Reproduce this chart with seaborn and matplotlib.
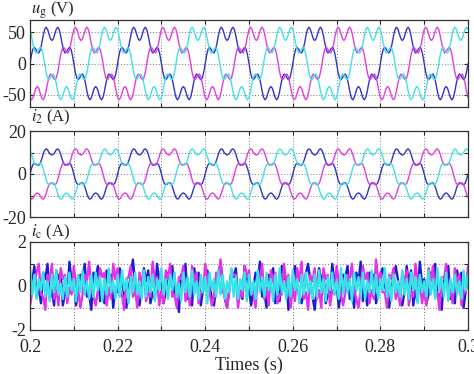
"""
Three stacked waveform panels: grid voltage u_g, grid current i_2 and
capacitor current i_c (phases a/b/c) over 0.2-0.3 s.
"""

import numpy as np
import pandas as pd
import matplotlib
matplotlib.use("Agg")
import matplotlib.pyplot as plt
import seaborn as sns

# ── Data ───────────────────────────────────────────────────────────────────────
T_START, T_END = 0.2, 0.3
N_CYCLES = 5                      # 50 Hz over 0.1 s

# phase a, one half-cycle sampled every 1/3 ms (6 deg); second half is the mirror
UG_HALF = [0.0, 13.9, 23.3, 26.0, 23.0, 18.5, 17.0, 21.6, 31.9, 44.5,
           54.6, 58.4, 55.2, 47.5, 40.0, 37.0, 40.0, 47.5, 55.2, 58.4,
           54.6, 44.5, 31.9, 21.6, 17.0, 18.5, 23.0, 26.0, 23.3, 13.9]

I2_HALF = [0.0, 2.6, 4.4, 5.0, 4.7, 4.2, 4.1, 5.0, 6.9, 9.2,
           11.0, 11.7, 11.3, 10.0, 9.2, 8.8, 9.2, 10.0, 11.3, 11.7,
           11.0, 9.2, 6.9, 5.0, 4.1, 4.2, 4.7, 5.0, 4.4, 2.6]

# capacitor current, every 0.5 ms from 0.2 s to 0.3 s
IC_A = [0.4, 0.2, 0.9, -0.5, -0.1, -0.8, 0.6, 0.3, 1.0, -0.6,
        -0.2, -0.9, 0.7, 0.3, 0.6, -0.9, -0.3, -0.5, 1.1, 0.2,
        0.3, -0.9, -0.2, 0.5, 0.4, 1.0, -0.5, -0.4, -1.1, 0.6,
        0.3, 0.9, -0.7, -0.2, -0.8, 0.7, 0.2, 0.5, -1.0, -0.1,
        -0.3, 0.8, 0.1, -0.4, -1.0, -0.2, 0.5, 1.2, 0.1, -0.7,
        -0.9, -0.1, 0.8, 0.2, 0.7, -0.8, -0.3, -0.6, 1.0, 0.3,
        0.2, -0.8, -0.3, 0.6, 0.3, 0.9, -0.4, -0.5, -1.2, 0.5,
        0.2, 1.0, -0.6, -0.3, -0.9, 0.8, 0.1, 0.6, -0.9, -0.2,
        0.4, 0.7, 0.2, -0.6, -0.9, -0.1, 0.4, 1.1, 0.2, -0.6,
        -1.0, -0.2, 0.7, 0.4, 0.8, -0.7, -0.2, -0.6, 0.9, 0.4,
        -0.2, -0.9, -0.1, 0.6, 0.2, 1.1, -0.5, -0.3, -1.0, 0.5,
        0.4, 0.8, -0.8, -0.1, -0.7, 0.9, 0.3, 0.4, -1.1, -0.3,
        0.3, 0.9, 0.0, -0.5, -0.8, -0.3, 0.6, 1.0, 0.2, -0.5,
        -1.1, 0.0, 0.8, 0.2, 0.6, -0.8, -0.4, -0.5, 1.0, 0.2,
        0.1, -1.0, -0.2, 0.5, 0.4, 0.9, -0.6, -0.2, -1.0, 0.6,
        0.2, 1.1, -0.7, -0.2, -0.9, 0.6, 0.3, 0.5, -0.8, -0.3,
        0.5, 0.8, 0.1, -0.5, -1.0, -0.2, 0.4, 0.9, 0.3, -0.7,
        -0.9, -0.3, 0.9, 0.1, 0.7, -0.9, -0.2, -0.7, 1.1, 0.1,
        0.3, -0.8, -0.4, 0.6, 0.2, 1.0, -0.4, -0.4, -1.1, 0.4,
        0.3, 0.9, -0.6, -0.3, -0.8, 0.7, 0.2, 0.6, -1.0, -0.2,
        0.4]

IC_B = [-0.9, -0.3, 0.2, 0.6, 1.0, -0.4, -0.5, -1.1, 0.5, 0.2,
        1.0, -0.6, -0.2, -0.9, 0.8, 0.3, 0.5, -0.8, -0.1, -0.4,
        0.9, 0.1, -0.2, -1.0, -0.4, 0.5, 0.2, 1.1, -0.2, -0.5,
        -0.9, -0.2, 0.8, 0.4, 0.6, -0.9, -0.1, -0.6, 1.0, 0.3,
        0.8, -0.2, -0.4, -1.1, 0.3, 0.4, 0.9, -0.5, -0.2, -1.0,
        0.6, 0.1, 0.7, -0.7, -0.3, -0.5, 1.1, 0.2, 0.4, -0.9,
        -0.2, -0.8, 0.7, 0.3, 1.0, -0.5, -0.4, -1.0, 0.4, 0.3,
        0.9, -0.7, -0.1, -0.9, 0.9, 0.2, 0.6, -0.8, -0.3, -0.3,
        1.0, 0.2, -0.3, -0.9, -0.5, 0.6, 0.1, 1.2, -0.3, -0.4,
        -1.0, -0.1, 0.7, 0.5, 0.5, -1.0, -0.2, -0.5, 0.9, 0.4,
        0.7, -0.3, -0.3, -1.0, 0.4, 0.3, 1.0, -0.6, -0.1, -0.9,
        0.7, 0.2, 0.6, -0.8, -0.4, -0.4, 1.0, 0.1, 0.5, -1.0,
        -0.1, -0.7, 0.8, 0.2, 1.1, -0.6, -0.3, -1.1, 0.5, 0.2,
        0.8, -0.6, -0.2, -1.0, 0.8, 0.3, 0.5, -0.9, -0.2, -0.4,
        0.9, 0.2, -0.4, -0.9, -0.3, 0.5, 0.3, 1.0, -0.2, -0.6,
        -1.0, -0.1, 0.9, 0.3, 0.6, -0.8, -0.2, -0.6, 1.2, 0.2,
        0.6, -0.3, -0.3, -1.0, 0.5, 0.3, 0.8, -0.6, -0.2, -0.9,
        0.6, 0.1, 0.7, -0.9, -0.2, -0.5, 1.0, 0.3, 0.3, -0.8,
        -0.2, -0.9, 0.8, 0.2, 0.9, -0.5, -0.3, -1.1, 0.4, 0.3,
        1.0, -0.5, -0.2, -0.8, 0.8, 0.1, 0.5, -0.9, -0.3, -0.3,
        0.9]

IC_C = [0.8, -0.4, 0.5, -0.6, 0.3, -0.2, 0.6, -0.5, 0.2, -0.7,
        0.5, -0.3, 0.7, -0.4, 0.1, -0.6, 0.4, -0.5, 0.6, -0.2,
        0.3, -0.7, 0.5, -0.3, 0.7, -0.4, 0.2, -0.6, 0.5, -0.5,
        0.6, -0.2, 0.4, -0.7, 0.3, -0.4, 0.8, -0.3, 0.2, -0.6,
        0.5, -0.5, 0.7, -0.2, 0.3, -0.8, 0.4, -0.3, 0.6, -0.4,
        0.2, -0.6, 0.7, -0.5, 0.4, -0.3, 0.5, -0.7, 0.3, -0.2,
        0.8, -0.4, 0.3, -0.6, 0.5, -0.2, 0.6, -0.5, 0.1, -0.7,
        0.6, -0.3, 0.4, -0.5, 0.7, -0.4, 0.2, -0.6, 0.5, -0.3,
        0.4, -0.8, 0.6, -0.2, 0.3, -0.5, 0.7, -0.4, 0.5, -0.6,
        0.2, -0.3, 0.8, -0.5, 0.4, -0.6, 0.3, -0.2, 0.6, -0.7,
        0.5, -0.4, 0.2, -0.6, 0.7, -0.3, 0.4, -0.5, 0.6, -0.2,
        0.3, -0.7, 0.5, -0.4, 0.8, -0.3, 0.2, -0.6, 0.4, -0.5,
        0.7, -0.2, 0.3, -0.8, 0.5, -0.4, 0.6, -0.3, 0.2, -0.6,
        0.5, -0.5, 0.7, -0.3, 0.3, -0.7, 0.4, -0.2, 0.6, -0.4,
        0.2, -0.6, 0.8, -0.4, 0.5, -0.3, 0.3, -0.7, 0.6, -0.2,
        0.4, -0.5, 0.6, -0.6, 0.2, -0.3, 0.7, -0.4, 0.5, -0.6,
        0.3, -0.2, 0.8, -0.5, 0.4, -0.7, 0.5, -0.3, 0.2, -0.5,
        0.7, -0.4, 0.3, -0.6, 0.6, -0.2, 0.4, -0.8, 0.5, -0.3,
        0.2, -0.5, 0.7, -0.4, 0.3, -0.6, 0.8, -0.2, 0.4, -0.5,
        0.6, -0.7, 0.3, -0.3, 0.5, -0.4, 0.2, -0.6, 0.7, -0.2,
        0.5]

PHASES  = ["a", "b", "c"]
COLOURS = ["#3434c8", "#e03ee0", "#42e0e6"]
IC_COLOURS = ["#1c1cd0", "#e632e6", "#34e4e8"]

X_TICKS  = [0.2, 0.21, 0.22, 0.23, 0.24, 0.25, 0.26, 0.27, 0.28, 0.29, 0.3]
X_LABELS = ["0.2", "", "0.22", "", "0.24", "", "0.26", "", "0.28", "", "0.3"]


# ── Helpers ────────────────────────────────────────────────────────────────────

def three_phase_frame(half: list[float]) -> pd.DataFrame:
    cycle = np.concatenate([half, -np.asarray(half)])
    shift = len(cycle) // 3
    wave  = np.tile(cycle, N_CYCLES)
    t     = np.linspace(T_START, T_END, len(wave) + 1)
    parts = []
    for ph, s in zip(PHASES, [0, shift, -shift]):
        w = np.roll(wave, s)
        w = np.append(w, w[0])
        parts.append(pd.DataFrame({"t": t, "value": w, "phase": ph}))
    return pd.concat(parts, ignore_index=True)


def sampled_frame(series: list[list[float]]) -> pd.DataFrame:
    parts = []
    for ph, vals in zip(PHASES, series):
        t = np.linspace(T_START, T_END, len(vals))
        parts.append(pd.DataFrame({"t": t, "value": vals, "phase": ph}))
    return pd.concat(parts, ignore_index=True)


def draw(ax, df, lw, colours, ylim, yticks, ylabels, title, title_gap):
    sns.lineplot(data=df, x="t", y="value", hue="phase", hue_order=PHASES,
                 palette=colours, lw=lw, legend=False, estimator=None,
                 ax=ax)
    ax.set_xlim(T_START, T_END)
    ax.set_ylim(*ylim)
    ax.set_xticks(X_TICKS)
    ax.set_yticks(yticks)
    ax.set_yticklabels(ylabels)
    ax.set_xlabel("")
    ax.set_ylabel("")
    ax.grid(True, ls=(0, (1, 2)), color="#7a7a7a", lw=0.7)
    ax.tick_params(direction="in", top=True, right=True, length=3,
                   labelsize=13, pad=3)
    for sp in ax.spines.values():
        sp.set_color("#333333")
        sp.set_linewidth(0.9)
    # panel label sits above the top-left corner (baseline gap in points)
    ax.annotate(title, xy=(0, 1), xycoords="axes fraction",
                xytext=(1, title_gap), textcoords="offset points",
                ha="left", va="baseline", fontsize=12)


# ── Main ───────────────────────────────────────────────────────────────────────

sns.set_style("ticks")
plt.rcParams["font.family"] = ["Liberation Serif", "DejaVu Serif"]
plt.rcParams["mathtext.fontset"] = "stix"
plt.rcParams["axes.unicode_minus"] = False

fig = plt.figure(figsize=(4.74, 3.74), dpi=100)
W, H = 474, 374
L, R = 30, 468
ax1 = fig.add_axes([L / W, (H - 107) / H, (R - L) / W, 87 / H])
ax2 = fig.add_axes([L / W, (H - 217) / H, (R - L) / W, 86 / H])
ax3 = fig.add_axes([L / W, (H - 329.5) / H, (R - L) / W, 87.5 / H])

draw(ax1, three_phase_frame(UG_HALF), 1.0, COLOURS, (-70, 70),
     [-50, 0, 50], ["-50", "0", "50"], r"$u_{\mathrm{g}}$ (V)", 4.5)
draw(ax2, three_phase_frame(I2_HALF), 1.0, COLOURS, (-20, 20),
     [-20, -10, 0, 10, 20], ["-20", "", "0", "", "20"], r"$i_{2}$ (A)", 7)
draw(ax3, sampled_frame([IC_A, IC_B, IC_C]), 1.7, IC_COLOURS, (-2, 2),
     [-2, -1, 0, 1, 2], ["-2", "", "0", "", "2"], r"$i_{\mathrm{c}}$ (A)", 4)

ax1.set_xticklabels([])
ax2.set_xticklabels([])
ax3.set_xticklabels(X_LABELS)
ax3.tick_params(axis="x", pad=7)
ax3.set_xlabel("Times (s)", fontsize=13, labelpad=0)

fig.savefig("out.png", dpi=100)
plt.close(fig)
